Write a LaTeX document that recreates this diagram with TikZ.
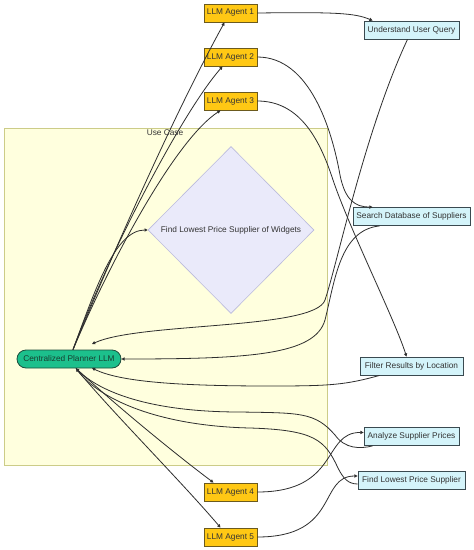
\documentclass[tikz,border=0pt]{standalone}
\usepackage{fontspec}
\setmainfont{Liberation Sans}
\usetikzlibrary{shapes.geometric,arrows.meta,calc}
\definecolor{agentfill}{HTML}{FFC814}
\definecolor{agentdraw}{HTML}{6B5A1E}
\definecolor{taskfill}{HTML}{D4F4FA}
\definecolor{taskdraw}{HTML}{3A4A50}
\definecolor{planfill}{HTML}{1CC08C}
\definecolor{plandraw}{HTML}{1E4D3C}
\definecolor{clusterfill}{HTML}{FFFFDE}
\definecolor{clusterdraw}{HTML}{CCCC88}
\definecolor{diafill}{HTML}{EAEAFA}
\definecolor{diadraw}{HTML}{BBBBDD}
\definecolor{edgecol}{HTML}{2E2E2E}
\definecolor{txtcol}{HTML}{333333}
\begin{document}
\begin{tikzpicture}[x=1pt,y=-1pt,
  every node/.style={font=\fontsize{8.3}{10}\selectfont, text=txtcol, inner sep=0pt},
  agent/.style={draw=agentdraw, fill=agentfill, line width=0.8pt, minimum width=53pt, minimum height=18pt},
  task/.style={draw=taskdraw, fill=taskfill, line width=0.8pt, minimum height=18pt},
  planner/.style={draw=plandraw, fill=planfill, line width=0.8pt, rounded corners=9pt, minimum width=104pt, minimum height=18pt, text=plandraw!80!black},
  goal/.style={diamond, draw=diadraw, fill=diafill, line width=0.6pt, minimum width=166pt, minimum height=167pt},
  conn/.style={draw=edgecol, line width=0.8pt},
  arr/.style={conn, -{Triangle[width=3.2pt,length=3.2pt]}}
]
\useasboundingbox (0,0) rectangle (474,550);
\fill[white] (0,0) rectangle (474,550);
% cluster
\node[draw=clusterdraw, fill=clusterfill, line width=0.6pt, minimum width=323pt, minimum height=337pt, anchor=north west] (uc) at (4,128) {};
\node[anchor=north] (uclabel) at (165,129) {Use Case};

% nodes
\node[goal] (D) at (231,230) {Find Lowest Price Supplier of Widgets};
\node[planner] (P) at (69,359) {Centralized Planner LLM};
\node[agent] (A1) at (230.5,13) {LLM Agent 1};
\node[agent] (A2) at (230.5,57) {LLM Agent 2};
\node[agent] (A3) at (230.5,101) {LLM Agent 3};
\node[agent] (A4) at (230.5,492) {LLM Agent 4};
\node[agent] (A5) at (230.5,537) {LLM Agent 5};
\node[task, minimum width=95pt] (T1) at (411.5,30) {Understand User Query};
\node[task, minimum width=117pt] (T2) at (411.5,216.5) {Search Database of Suppliers};
\node[task, minimum width=103pt] (T3) at (411.5,366) {Filter Results by Location};
\node[task, minimum width=95pt] (T4) at (411.5,436.5) {Analyze Supplier Prices};
\node[task, minimum width=107pt] (T5) at (411.5,480) {Find Lowest Price Supplier};

% anchor coordinates
\coordinate (Ptop) at ($(P.north)+(4,0)$);
\coordinate (Pbot) at ($(P.south)+(7,0)$);
\coordinate (A1b) at ($(A1.south)+(-6,0)$);
\coordinate (A2b) at ($(A2.south)+(-8,0)$);
\coordinate (A3b) at ($(A3.south)+(-10,0)$);
\coordinate (A4t) at ($(A4.north)+(-17,0)$);
\coordinate (A5t) at ($(A5.north)+(-10,0)$);
\coordinate (T1t) at ($(T1.north west)+(9,0)$);
\coordinate (T1b) at ($(T1.south)+(-4,0)$);
\coordinate (T2t) at ($(T2.north west)+(20,0)$);
\coordinate (T2b) at ($(T2.south west)+(27,0)$);
\coordinate (T3t) at ($(T3.north)+(-5,0)$);
\coordinate (T3b) at ($(T3.south west)+(20,0)$);
\coordinate (T4l) at ($(T4.west)+(0,-4)$);
\coordinate (T4b) at ($(T4.south west)+(9,0)$);
\coordinate (T5l) at ($(T5.west)+(0,-4)$);
\coordinate (T5b) at ($(T5.west)+(0,4)$);
\coordinate (PtopR) at (92,344);
\coordinate (PbotR) at (92,368);

% planner -> agents / goal
\draw[arr] (Ptop) .. controls (110,260) and (172,118) .. (A1b);
\draw[arr] (Ptop) .. controls (105,262) and (180,115) .. (A2b);
\draw[arr] (Ptop) .. controls (110,262) and (175,140) .. (A3b);
\draw[arr] (Ptop) .. controls (95,290) and (115,230) .. (D.west);
\draw[arr] (Pbot) .. controls (110,400) and (170,450) .. (A4t);
\draw[arr] (Pbot) .. controls (110,410) and (180,480) .. (A5t);

% agents -> tasks
\draw[arr] (A1.east) .. controls (335,12) and (355,13) .. (T1t);
\draw[arr] (A2.east) .. controls (310,57) and (332,130) .. (340,175) .. controls (345,200) and (355,207) .. (T2t);
\draw[arr] (A3.east) .. controls (300,101) and (320,140) .. (333,180) .. controls (350,230) and (395,320) .. (T3t);
\draw[arr] (A4.east) .. controls (340,492) and (322,432) .. (T4l);
\draw[arr] (A5.east) .. controls (340,537) and (318,476) .. (T5l);

% tasks -> planner
\draw[arr] (T1b) .. controls (365,130) and (337,265) .. (325,300) .. controls (315,330) and (140,322) .. (PtopR);
\draw[arr] (T2b) .. controls (340,230) and (335,280) .. (325,320) .. controls (315,355) and (250,359) .. (P.east);
\draw[arr] (T3b) .. controls (345,385) and (330,386) .. (270,386) .. controls (180,386) and (120,382) .. (PbotR);
\draw[arr] (T4b) .. controls (360,449) and (345,449) .. (335,435) .. controls (315,412) and (300,413) .. (240,412) .. controls (150,412) and (100,392) .. (Pbot);
\draw[arr] (T5b) .. controls (348,484) and (343,478) .. (338,468) .. controls (325,440) and (315,430) .. (250,428) .. controls (160,426) and (100,400) .. (Pbot);
\end{tikzpicture}
\end{document}
